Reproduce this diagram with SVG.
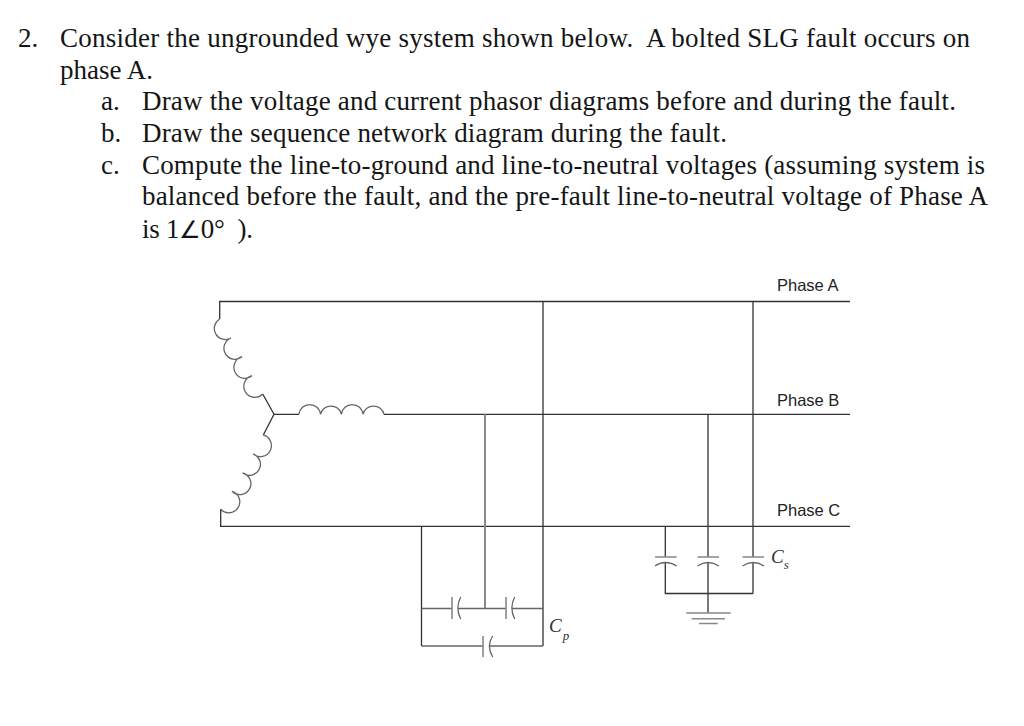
<svg xmlns="http://www.w3.org/2000/svg" width="1024" height="726" viewBox="0 0 1024 726">
<style>
.t{font-family:"Liberation Serif","Times New Roman",serif;font-size:27px;fill:#151515;white-space:pre}
.p{font-family:"Liberation Sans",Arial,sans-serif;font-size:16.5px;fill:#222}
.c{font-family:"Liberation Serif","Times New Roman",serif;font-style:italic;fill:#333;font-size:19px}
.s{font-size:13px}
.w{fill:none;stroke:#333;stroke-width:1.3}
.g{fill:none;stroke:#888;stroke-width:1.6}
.m{fill:none;stroke:#666;stroke-width:1.3}
</style>
<rect width="1024" height="726" fill="#fff"/>
<g id="question">
<text class="t" x="18" y="46.5">2.</text>
<text class="t" x="60" y="46.5" xml:space="preserve" textLength="910">Consider the ungrounded wye system shown below.  A bolted SLG fault occurs on</text>
<text class="t" x="60" y="78.5">phase A.</text>
<text class="t" x="101" y="109.5">a.</text>
<text class="t" x="142" y="109.5" textLength="814">Draw the voltage and current phasor diagrams before and during the fault.</text>
<text class="t" x="101" y="141.5">b.</text>
<text class="t" x="142" y="141.5" textLength="585">Draw the sequence network diagram during the fault.</text>
<text class="t" x="101" y="173.5">c.</text>
<text class="t" x="142" y="173.5" textLength="843">Compute the line-to-ground and line-to-neutral voltages (assuming system is</text>
<text class="t" x="142" y="204.5" textLength="846">balanced before the fault, and the pre-fault line-to-neutral voltage of Phase A</text>
<text class="t" x="142" y="237.5" xml:space="preserve" textLength="111">is 1<tspan font-size="24">∠</tspan>0°  ).</text>
</g>
<g id="connectors">
<path class="w" d="M219.7 319V301.5H850M220.7 509V526.3H850M274 414.3H299M384 414.3H850"/>
<path class="w" d="M262.7 394L274 414.3L263.3 435"/>
<path class="w" d="M543 301.5V646M753 301.5V557M753 562V593.5M708 414.3V557M708 562V613M665.3 526.3V557M665.3 562V593.5H753M421.5 526.3V646"/>
<path class="g" d="M485 414.3V608" style="stroke-width:2"/>
<path class="m" d="M421.5 608.5H452M458 608.5H506M512 608.5H543M421.5 646H483M489 646H543"/>
</g>
<g id="winding-a"><path class="m" d="M219.7 319A11 11 0 1 0 231 338A11 11 0 1 0 242 356.7A11 11 0 1 0 252 375.7A11 11 0 1 0 262.7 394"/></g>
<g id="winding-b"><path class="m" d="M299 414.3A10.8 10.8 0 0 1 320.5 414.3A10.8 10.8 0 0 1 341.5 414.3A10.8 10.8 0 0 1 363 414.3A10.8 10.8 0 0 1 384 414.3"/></g>
<g id="winding-c"><path class="m" d="M263.3 435A11 11 0 1 1 253.3 454A11 11 0 1 1 242.7 473A11 11 0 1 1 232 491.3A11 11 0 1 1 220.7 509.3"/></g>
<g id="cp-capacitors">
<path class="g" d="M452 597V619M506 597V619M483 636V657"/>
<path class="m" d="M460.7 597Q455 608 460.7 619M514.7 597Q509 608 514.7 619M492.7 636Q486 646 492.7 657"/>
<text class="c" x="549" y="632">C<tspan class="s" dx="1" dy="8">p</tspan></text>
</g>
<g id="cs-capacitors">
<path class="g" d="M655 557H676.7M697.5 557H719M742.5 557H764"/>
<path class="m" d="M655 566Q665.3 559 676.7 566M697.5 566Q708 559 719 566M742.5 566Q753 559 764 566"/>
<text class="c" x="771" y="563">C<tspan class="s" dx="0" dy="6">s</tspan></text>
</g>
<g id="ground">
<path class="g" d="M686.3 613H730.7M691.7 618.7H725M699 623.5H717.7"/>
</g>
<g id="phase-labels">
<text class="p" x="777" y="291">Phase A</text>
<text class="p" x="777" y="406">Phase B</text>
<text class="p" x="777" y="516">Phase C</text>
</g>
</svg>
